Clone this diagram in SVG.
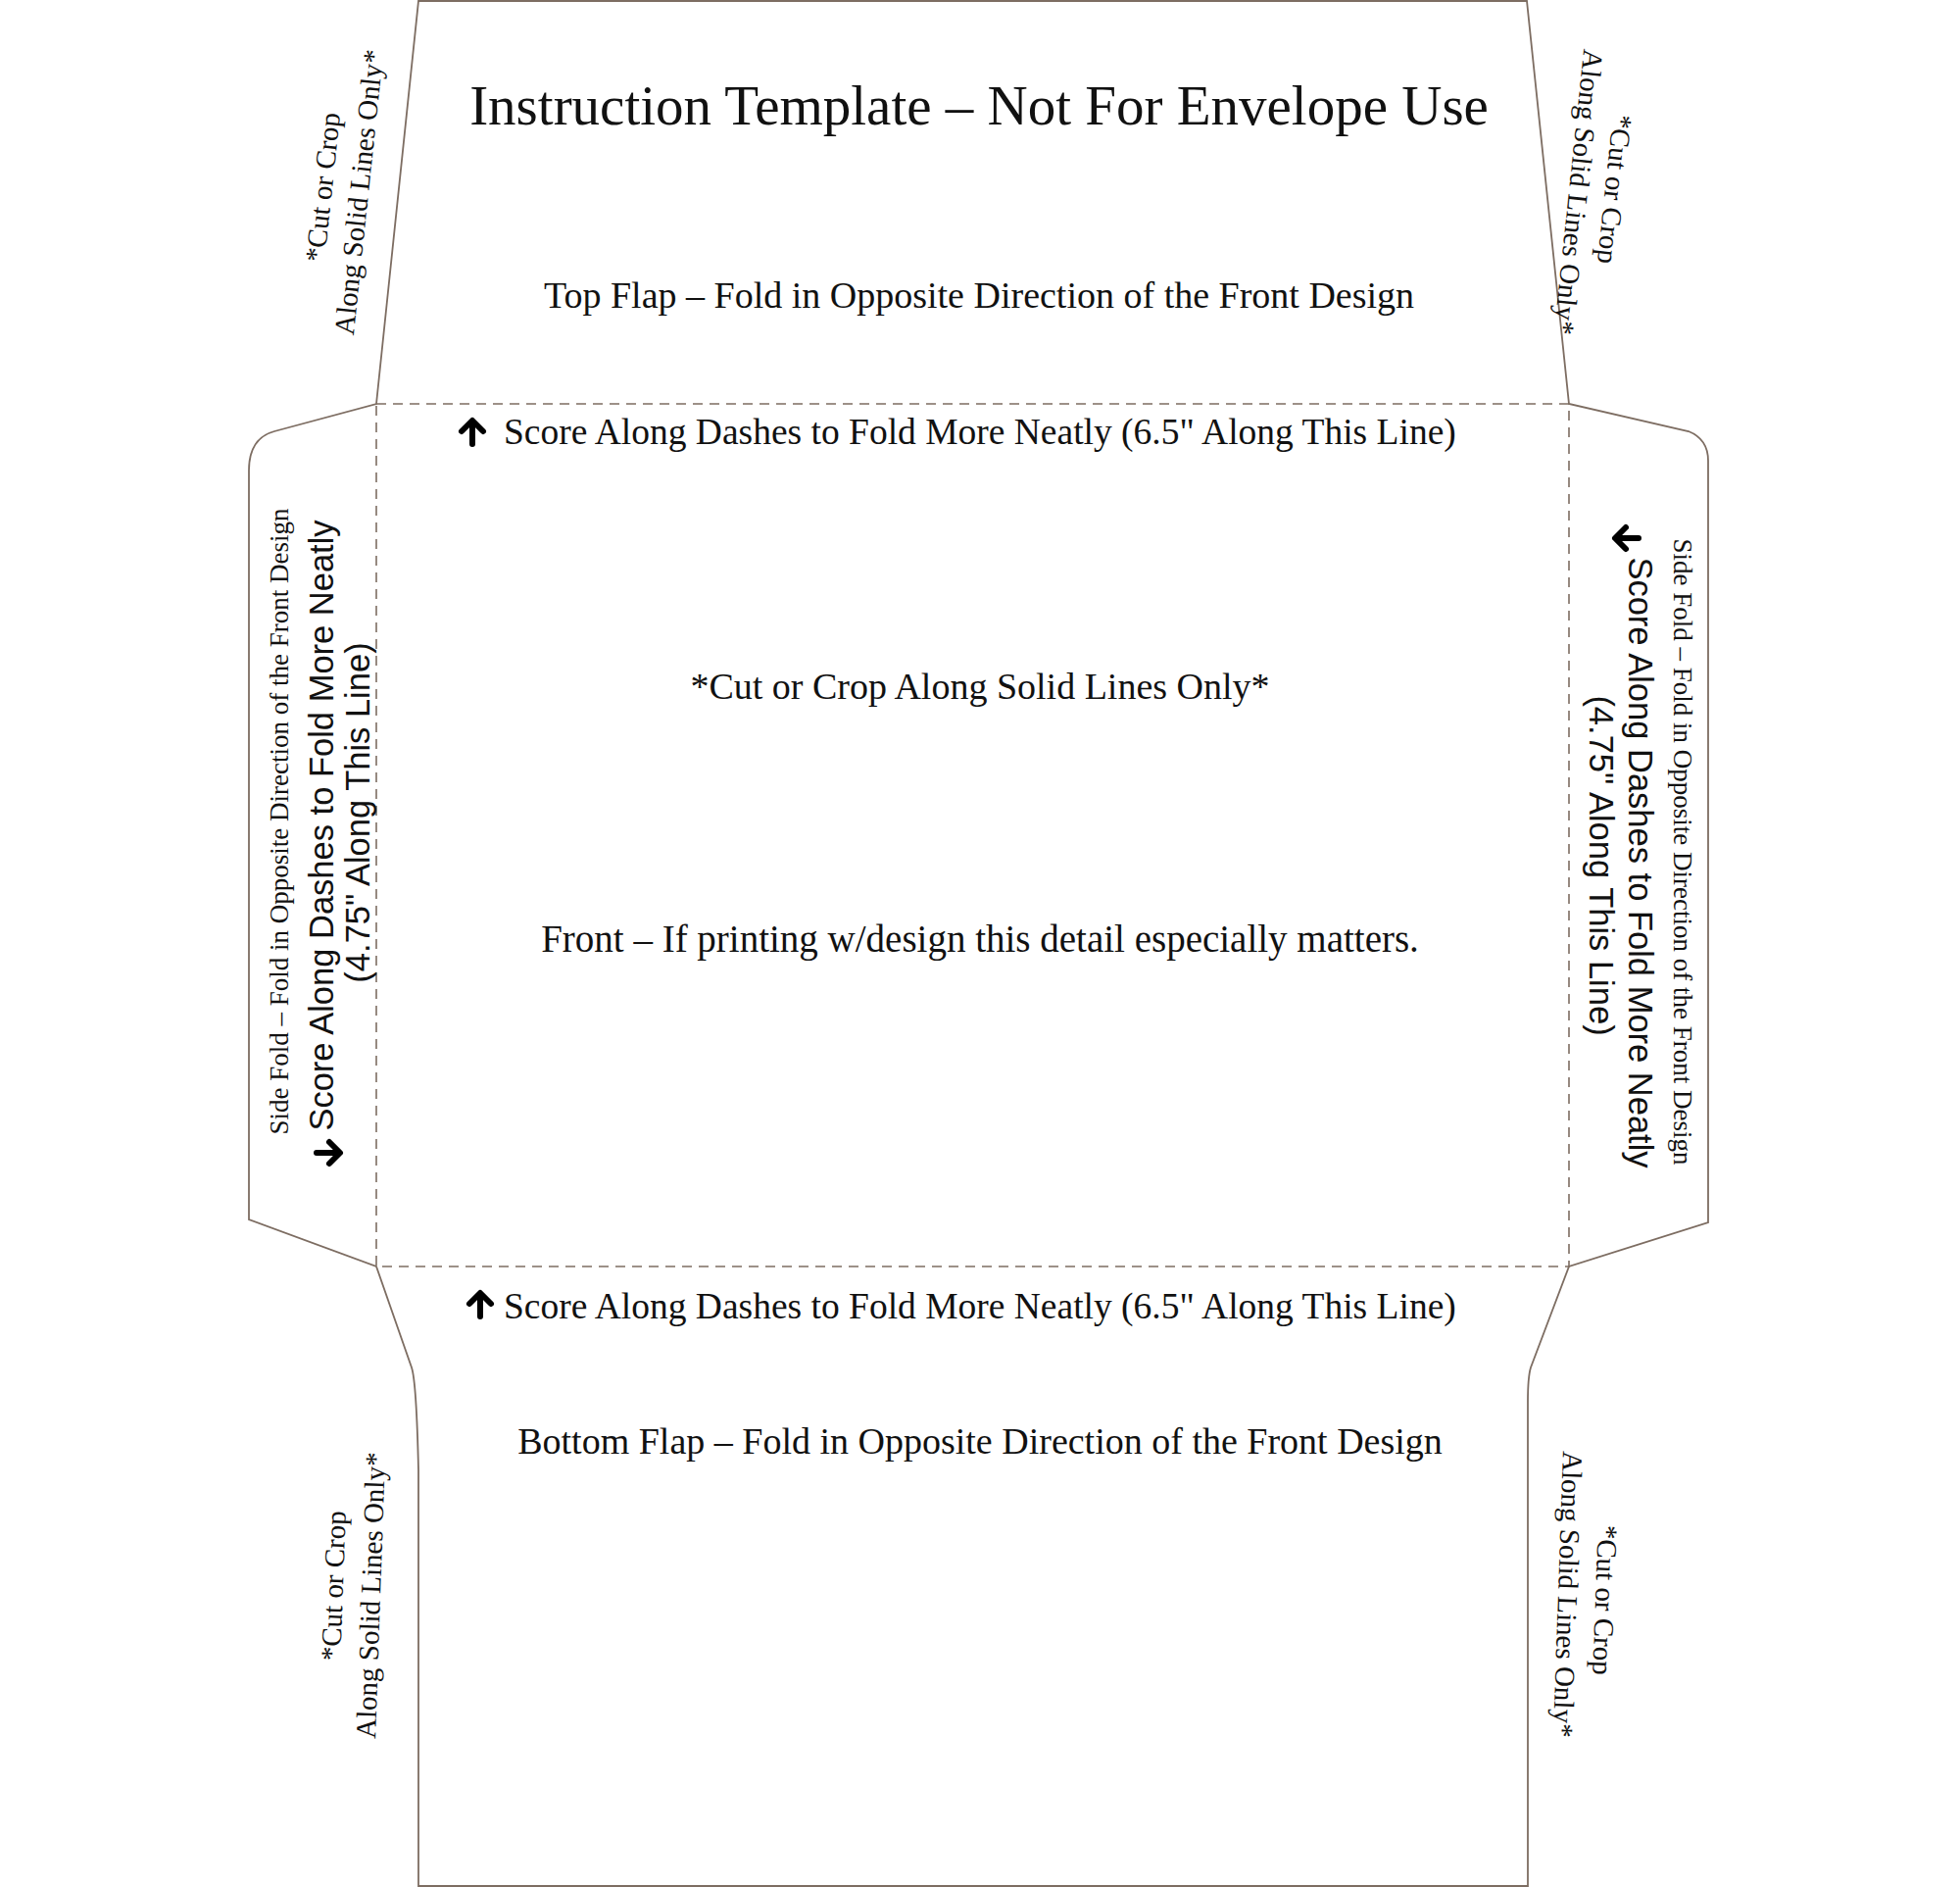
<svg xmlns="http://www.w3.org/2000/svg" width="2000" height="1925" viewBox="0 0 2000 1925">
<style>
.cut{fill:none;stroke:#7d6d62;stroke-width:1.8}
.dash{fill:none;stroke:#7d6d62;stroke-width:1.6;stroke-dasharray:10 7}
text{font-family:"Liberation Serif",serif;fill:#111}
.t{font-size:38px;text-anchor:middle}
.s{font-size:29px;text-anchor:middle}
.side{font-size:27px;text-anchor:middle}
.big{font-size:34.5px;text-anchor:middle;font-family:"Liberation Sans",sans-serif}
.sc{font-size:37.5px}
</style>
<defs>
<path id="arr" d="M-11,0 L0,-11 L11,0 M0,-10 L0,13" fill="none" stroke="#000" stroke-width="6" stroke-linecap="round" stroke-linejoin="round"/>
</defs>
<rect width="2000" height="1925" fill="#fff"/>
<g id="outline">
<path class="cut" d="M384,412 L427,1 L1558,1 L1601,412 L1723,440 Q1743,448 1743,470 L1743,1247 L1601,1292 L1562,1395 Q1559,1405 1559,1430 L1559,1924 L427,1924 L427,1500 Q425,1410 420,1395 L384,1292 L254,1244 L254,480 Q254,447 280,440 Z"/>
<rect class="dash" x="384" y="412" width="1217" height="880"/>
</g>
<g id="top-flap">
<text x="999" y="127" style="font-size:57px;text-anchor:middle">Instruction Template – Not For Envelope Use</text>
<text class="t" x="999" y="314">Top Flap – Fold in Opposite Direction of the Front Design</text>
<text class="s" transform="translate(339,192) rotate(-84)">*Cut or Crop</text>
<text class="s" transform="translate(376,197) rotate(-84)">Along Solid Lines Only*</text>
<text class="s" transform="translate(1638,192) rotate(96)">*Cut or Crop</text>
<text class="s" transform="translate(1601,195) rotate(96)">Along Solid Lines Only*</text>
</g>
<g id="front">
<use href="#arr" x="482" y="440"/>
<text class="sc" x="514" y="453">Score Along Dashes to Fold More Neatly (6.5" Along This Line)</text>
<text class="t" x="1000" y="713">*Cut or Crop Along Solid Lines Only*</text>
<text x="1000" y="971" style="font-size:39px;text-anchor:middle">Front – If printing w/design this detail especially matters.</text>
</g>
<g id="left-fold">
<text class="side" transform="translate(294,838) rotate(-90)">Side Fold – Fold in Opposite Direction of the Front Design</text>
<text class="big" transform="translate(340,842) rotate(-90)">Score Along Dashes to Fold More Neatly</text>
<text class="big" transform="translate(377,829) rotate(-90)">(4.75" Along This Line)</text>
<use href="#arr" transform="translate(336,1176) rotate(90)"/>
</g>
<g id="right-fold">
<text class="side" transform="translate(1708,869) rotate(90)">Side Fold – Fold in Opposite Direction of the Front Design</text>
<text class="big" transform="translate(1662,880) rotate(90)">Score Along Dashes to Fold More Neatly</text>
<text class="big" transform="translate(1622,883) rotate(90)">(4.75" Along This Line)</text>
<use href="#arr" transform="translate(1659,549) rotate(-90)"/>
</g>
<g id="bottom-flap">
<use href="#arr" x="490" y="1330"/>
<text class="sc" x="514" y="1345">Score Along Dashes to Fold More Neatly (6.5" Along This Line)</text>
<text class="t" x="1000" y="1483">Bottom Flap – Fold in Opposite Direction of the Front Design</text>
<text class="s" transform="translate(350,1618) rotate(-88)">*Cut or Crop</text>
<text class="s" transform="translate(388,1628) rotate(-88)">Along Solid Lines Only*</text>
<text class="s" transform="translate(1628,1632) rotate(92)">*Cut or Crop</text>
<text class="s" transform="translate(1590,1626) rotate(92)">Along Solid Lines Only*</text>
</g>
</svg>
